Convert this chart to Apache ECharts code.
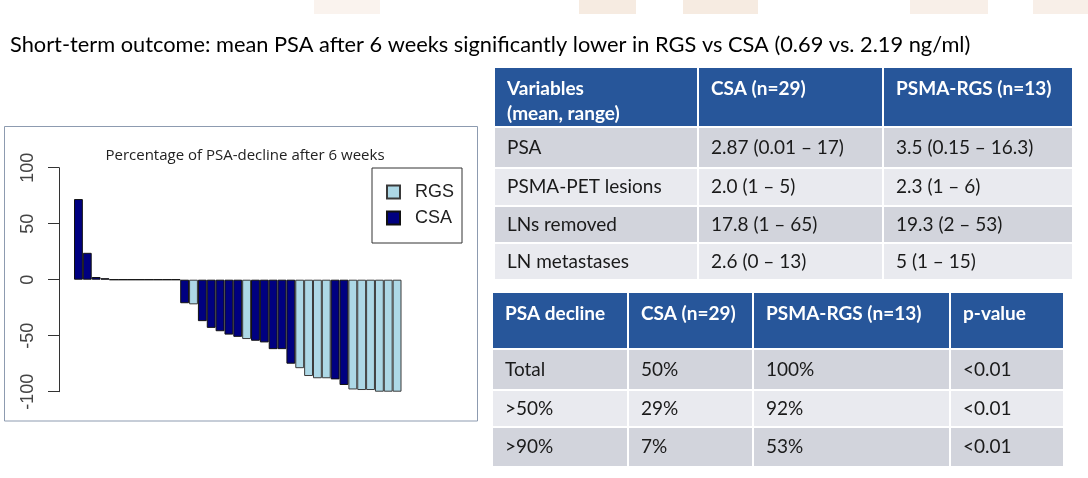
<!DOCTYPE html>
<html>
<head>
<meta charset="utf-8">
<script src="https://cdn.jsdelivr.net/npm/echarts@6/dist/echarts.min.js"></script>
<style>html,body{margin:0;padding:0;background:#fff;}#c{width:1088px;height:478px;}</style>
</head>
<body>
<div id="c"></div>
<script>
// ---- data ----
const slideTitle = 'Short-term outcome: mean PSA after 6 weeks significantly lower in RGS vs CSA (0.69 vs. ';
const slideTitleGrey = '2.19';
const slideTitleEnd = ' ng/ml)';
const chartTitle = 'Percentage of PSA-decline after 6 weeks';
const patients = ['1','2','3','4','5','6','7','8','9','10','11','12','13','14','15','16','17','18','19','20','21','22','23','24','25','26','27','28','29','30','31','32','33','34','35','36','37'];
const psaChange = [72, 24, 2.4, 1.3, 0, 0, 0, 0, 0, 0, 0, 0,
  -21, -22, -37, -43, -46, -49, -51, -53, -54.5, -56, -62, -62, -75,
  -79, -86, -88, -88, -89, -94, -98, -98.5, -98.5, -100, -100, -100];
const groupOf = ['CSA','CSA','CSA','CSA','CSA','CSA','CSA','CSA','CSA','CSA','CSA','CSA',
  'CSA','RGS','CSA','CSA','CSA','CSA','CSA','RGS','CSA','CSA','CSA','CSA','CSA',
  'RGS','RGS','RGS','RGS','CSA','CSA','RGS','RGS','RGS','RGS','RGS','RGS'];
const yTicks = [-100, -50, 0, 50, 100];

const table1Header = ['Variables\n(mean, range)', 'CSA (n=29)', 'PSMA-RGS (n=13)'];
const table1Rows = [
  ['PSA', '2.87 (0.01 \u2013 17)', '3.5 (0.15 \u2013 16.3)'],
  ['PSMA-PET lesions', '2.0 (1 \u2013 5)', '2.3 (1 \u2013 6)'],
  ['LNs removed', '17.8 (1 \u2013 65)', '19.3 (2 \u2013 53)'],
  ['LN metastases', '2.6 (0 \u2013 13)', '5 (1 \u2013 15)']
];
const table2Header = ['PSA decline', 'CSA (n=29)', 'PSMA-RGS (n=13)', 'p-value'];
const table2Rows = [
  ['Total', '50%', '100%', '<0.01'],
  ['>50%', '29%', '92%', '<0.01'],
  ['>90%', '7%', '53%', '<0.01']
];

// ---- layout ----
const HEAD_BLUE = '#27569a';
const ROW_DARK = '#d2d4dc';
const ROW_LIGHT = '#e9eaef';
const TFONT = 'Lato, "Open Sans", sans-serif';

function buildTable(colEdges, headerY, rowYs, header, rows) {
  const els = [];
  const gap = 2;
  for (let c = 0; c < header.length; c++) {
    const xL = colEdges[c], xR = colEdges[c + 1] - gap;
    els.push({type: 'rect', shape: {x: xL, y: headerY[0], width: xR - xL, height: headerY[1] - headerY[0]},
      style: {fill: HEAD_BLUE}, z: 1});
    els.push({type: 'text', x: xL + 12, y: headerY[0] + 8,
      style: {text: header[c], fill: '#fff', font: 'bold 19px ' + TFONT, lineHeight: 25, textVerticalAlign: 'top'}, z: 2});
    for (let r = 0; r < rows.length; r++) {
      const yT = rowYs[r][0], yB = rowYs[r][1];
      els.push({type: 'rect', shape: {x: xL, y: yT, width: xR - xL, height: yB - yT},
        style: {fill: r % 2 === 0 ? ROW_DARK : ROW_LIGHT}, z: 1});
      els.push({type: 'text', x: xL + 12, y: (yT + yB) / 2,
        style: {text: rows[r][c], fill: '#1a1a1a', font: '19px ' + TFONT, textVerticalAlign: 'middle'}, z: 2});
    }
  }
  return els;
}

const graphics = [];
// faint decorations at top of slide
[[314,66,'#faf3ee'],[579,57,'#f6ebe1'],[683,75,'#f6ebe1'],[910,78,'#f8efe8'],[1033,55,'#f8efe8']].forEach(d => {
  graphics.push({type: 'rect', shape: {x: d[0], y: 0, width: d[1], height: 14}, style: {fill: d[2]}, z: 0});
});
graphics.push({type: 'text', x: 10, y: 45,
  style: {text: '{a|' + slideTitle + '}{g|' + slideTitleGrey + '}{a|' + slideTitleEnd + '}',
    textVerticalAlign: 'middle',
    rich: {a: {fontFamily: TFONT, fontSize: 21.8, color: '#111'}, g: {fontFamily: TFONT, fontSize: 21.8, color: '#777'}}}, z: 2});
// chart frame
graphics.push({type: 'rect', shape: {x: 4.5, y: 126.5, width: 473, height: 294.5},
  style: {fill: 'none', stroke: '#8d9bb0', lineWidth: 1}, z: 0});

graphics.push(...buildTable([495, 699, 884, 1074], [68, 126],
  [[128, 167], [169, 205], [207, 242], [244, 279]], table1Header, table1Rows));
graphics.push(...buildTable([493, 629, 754, 951, 1065], [293, 348],
  [[350, 389], [391, 426], [428, 466]], table2Header, table2Rows));

const rgsData = psaChange.map((v, i) => groupOf[i] === 'RGS' ? v : '-');
const csaData = psaChange.map((v, i) => groupOf[i] === 'CSA' ? v : '-');

const chart = echarts.init(document.getElementById('c'), null, {renderer: 'canvas'});
chart.setOption({
  animation: false,
  backgroundColor: '#fff',
  title: {text: chartTitle, left: 240, top: 143, textAlign: 'center',
    textStyle: {fontFamily: '"Open Sans", sans-serif', fontSize: 15, fontWeight: 'normal', color: '#222'}},
  legend: {
    data: ['RGS', 'CSA'], orient: 'vertical', left: 372, top: 168,
    padding: [15, 8, 16, 14], itemGap: 8, itemWidth: 13, itemHeight: 13,
    borderColor: '#333', borderWidth: 1, icon: 'rect',
    textStyle: {fontFamily: '"Liberation Sans", Arial, sans-serif', fontSize: 18, color: '#222', padding: [0, 0, 0, 10]}
  },
  grid: {left: 74, width: 327.5, top: 167.7, height: 224},
  xAxis: {type: 'category', data: patients, show: false},
  yAxis: {type: 'value', min: -100, max: 100, interval: 50, offset: 15,
    axisLine: {show: true, lineStyle: {color: '#333', width: 1}},
    axisTick: {show: true, length: 11, lineStyle: {color: '#333'}},
    axisLabel: {rotate: 90, margin: 22, fontSize: 18, color: '#444', fontFamily: '"Liberation Sans", Arial, sans-serif',
      formatter: v => yTicks.includes(v) ? String(v) : ''},
    splitLine: {show: false}},
  series: [
    {name: 'RGS', type: 'bar', data: rgsData, barGap: '-100%', barCategoryGap: 0,
      itemStyle: {color: '#add8e6', borderColor: '#3a3a3a', borderWidth: 1}},
    {name: 'CSA', type: 'bar', data: csaData, barGap: '-100%', barCategoryGap: 0,
      itemStyle: {color: '#000080', borderColor: '#111', borderWidth: 1}}
  ],
  graphic: graphics
});
</script>
</body>
</html>
